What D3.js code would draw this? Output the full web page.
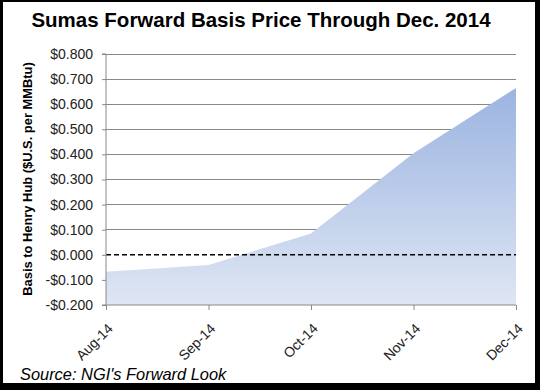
<!DOCTYPE html>
<html><head><meta charset="utf-8">
<script src="https://cdn.jsdelivr.net/npm/d3@7"></script>
<style>html,body{margin:0;padding:0;background:#fff;}svg{display:block;}</style>
</head><body>
<svg id="c" width="540" height="390"></svg>
<script>
const months = ["Aug-14","Sep-14","Oct-14","Nov-14","Dec-14"];
const basis = [-0.068, -0.041, 0.085, 0.405, 0.665];
const yTicks = [-0.2,-0.1,0,0.1,0.2,0.3,0.4,0.5,0.6,0.7,0.8];

const svg = d3.select("#c");
const W = 540, H = 390;
const m = {left:106, right:24, top:54, bottom:85};
const x = d3.scalePoint().domain(months).range([m.left, 516]);
const y = d3.scaleLinear().domain([-0.2, 0.8]).range([305, 54]);
const FONT = "Arial, 'Liberation Sans', sans-serif";

svg.append("rect").attr("width",W).attr("height",H).attr("fill","#000");
svg.append("rect").attr("x",3).attr("y",2).attr("width",532).attr("height",381).attr("fill","#fff");

const defs = svg.append("defs");
const g = defs.append("linearGradient").attr("id","gr").attr("x1",0).attr("y1",0).attr("x2",0).attr("y2",1);
g.append("stop").attr("offset","0%").attr("stop-color","#9bb4e0");
g.append("stop").attr("offset","100%").attr("stop-color","#dfe6f4");

// gridlines
svg.append("g").selectAll("line").data(yTicks.filter(d=>d>0)).join("line")
  .attr("x1",m.left).attr("x2",516).attr("y1",d=>y(d)).attr("y2",d=>y(d))
  .attr("stroke","#888").attr("stroke-width",1).attr("shape-rendering","crispEdges");

const data = months.map((mo,i)=>({m:mo,v:basis[i]}));
const area = d3.area().x(d=>x(d.m)).y0(y(-0.2)).y1(d=>y(d.v));
svg.append("path").datum(data).attr("d",area).attr("fill","url(#gr)");

// zero dashed line
svg.append("line").attr("x1",m.left).attr("x2",516).attr("y1",y(0)).attr("y2",y(0))
  .attr("stroke","#000").attr("stroke-width",1.6).attr("stroke-dasharray","5,3");

// axes
const ya = d3.axisLeft(y).tickValues(yTicks).tickSize(4).tickPadding(9)
  .tickFormat(d=> (d<0?"-$":"$") + Math.abs(d).toFixed(3));
const yg = svg.append("g").attr("transform",`translate(${m.left},0)`).call(ya);
yg.select(".domain").attr("stroke","#888").attr("d",`M-4,${y(0.8)}H0V${y(-0.2)}H-4`);
yg.selectAll(".tick line").attr("stroke","#888");
yg.selectAll("text").attr("font-family",FONT).attr("font-size",14).attr("fill","#222");

const xa = d3.axisBottom(x).tickSize(5).tickPadding(4);
const xg = svg.append("g").attr("transform",`translate(0,${y(-0.2)})`).call(xa);
xg.select(".domain").attr("stroke","#888").attr("d",`M${m.left},0H516`);
xg.selectAll(".tick line").attr("stroke","#888");
xg.selectAll("text").attr("font-family",FONT).attr("font-size",14).attr("fill","#222")
  .attr("text-anchor","end").attr("dy","0").attr("transform","translate(1,18) rotate(-45)");

// title
svg.append("text").attr("x",261).attr("y",27).attr("text-anchor","middle")
  .attr("font-family",FONT).attr("font-weight","bold").attr("font-size",20.5)
  .attr("fill","#000").text("Sumas Forward Basis Price Through Dec. 2014");

// y label
svg.append("text").attr("transform",`translate(32,179) rotate(-90)`).attr("text-anchor","middle")
  .attr("font-family",FONT).attr("font-weight","bold").attr("font-size",12.9)
  .attr("fill","#000").text("Basis to Henry Hub ($U.S. per MMBtu)");

// source
svg.append("text").attr("x",20).attr("y",380)
  .attr("font-family",FONT).attr("font-style","italic").attr("font-size",16.4)
  .attr("fill","#000").text("Source: NGI's Forward Look");
</script>
</body></html>
